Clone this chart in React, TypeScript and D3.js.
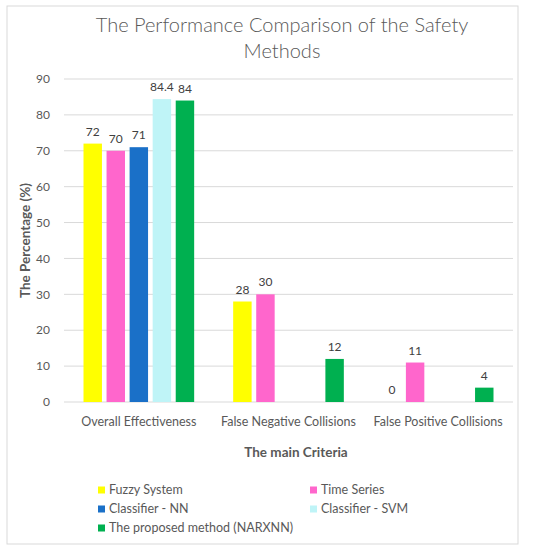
import * as d3 from 'd3';

// chart values
const categories = ['Overall Effectiveness', 'False Negative Collisions', 'False Positive Collisions'];
const seriesNames = ['Fuzzy System', 'Time Series', 'Classifier - NN', 'Classifier - SVM', 'The proposed method (NARXNN)'];
const seriesColors = ['#FFFF00', '#FF66CC', '#1A70C8', '#BFF4F7', '#00B050'];
const fuzzyValues = [72, 28, 0];
const timeSeriesValues = [70, 30, 11];
const nnValues: (number | null)[] = [71, null, null];
const svmValues: (number | null)[] = [84.4, null, null];
const narxValues = [84, 12, 4];
const yTicks = [0, 10, 20, 30, 40, 50, 60, 70, 80, 90];

const allSeries = [fuzzyValues, timeSeriesValues, nnValues, svmValues, narxValues];

const W = 546;
const H = 550;
const FONT = 'Lato, "Liberation Sans", sans-serif';
const GRAY = '#595959';

export default function App() {
  const left = 64, right = 513, top = 79, bottom = 402;

  const x0 = d3.scaleBand<string>().domain(categories).range([left, right]);
  const groupPad = 19.5;
  const x1 = d3.scaleBand<number>()
    .domain(d3.range(seriesNames.length))
    .range([groupPad, x0.bandwidth() - groupPad])
    .paddingInner(0.2);
  const y = d3.scaleLinear().domain([0, 90]).range([bottom, top]);

  const legendCols = [98, 310];
  const legendRows = [490, 509, 528];

  return (
    <svg width={W} height={H} style={{ position: 'absolute', left: 0, top: 0, background: '#fff' }} fontFamily={FONT}>
      <rect x={7} y={6} width={511} height={538} fill="#fff" stroke="#d9d9d9" strokeWidth={1} />

      {/* title */}
      <text x={282} y={32} textAnchor="middle" fontSize={20} fill={GRAY} fontWeight={300}>
        The Performance Comparison of the Safety
      </text>
      <text x={282} y={58} textAnchor="middle" fontSize={20} fill={GRAY} fontWeight={300}>
        Methods
      </text>

      {/* gridlines and y ticks */}
      {yTicks.map(t => (
        <g key={t}>
          <line x1={left} x2={right} y1={y(t)} y2={y(t)} stroke="#d9d9d9" strokeWidth={1} />
          <text x={50} y={y(t)} dy="0.35em" textAnchor="end" fontSize={12} fill={GRAY}>{t}</text>
        </g>
      ))}

      {/* bars */}
      {categories.map((c, ci) => (
        <g key={c} transform={`translate(${x0(c)},0)`}>
          {allSeries.map((vals, si) => {
            const v = vals[ci];
            if (v === null || v === undefined) return null;
            const bx = x1(si)!;
            return (
              <g key={si}>
                {v > 0 && (
                  <rect x={bx} y={y(v)} width={x1.bandwidth()} height={y(0) - y(v)} fill={seriesColors[si]} />
                )}
                <text x={bx + x1.bandwidth() / 2} y={y(v) - 8} textAnchor="middle" fontSize={12} fill="#404040">{v}</text>
              </g>
            );
          })}
        </g>
      ))}

      {/* category labels */}
      {categories.map(c => (
        <text key={c} x={x0(c)! + x0.bandwidth() / 2} y={426} textAnchor="middle" fontSize={12.5} fill={GRAY}>{c}</text>
      ))}

      {/* axis titles */}
      <text x={296} y={457} textAnchor="middle" fontSize={13.5} fontWeight={700} fill={GRAY}>The main Criteria</text>
      <text transform={`translate(25,${(top + bottom) / 2}) rotate(-90)`} textAnchor="middle" dy="0.35em" fontSize={13.5} fontWeight={700} fill={GRAY}>
        The Percentage (%)
      </text>

      {/* legend */}
      {seriesNames.map((name, i) => {
        const lx = legendCols[i % 2];
        const ly = legendRows[Math.floor(i / 2)];
        return (
          <g key={name}>
            <rect x={lx} y={ly - 3.5} width={7} height={7} fill={seriesColors[i]} />
            <text x={lx + 11} y={ly} dy="0.35em" fontSize={12.5} fill={GRAY}>{name}</text>
          </g>
        );
      })}
    </svg>
  );
}
